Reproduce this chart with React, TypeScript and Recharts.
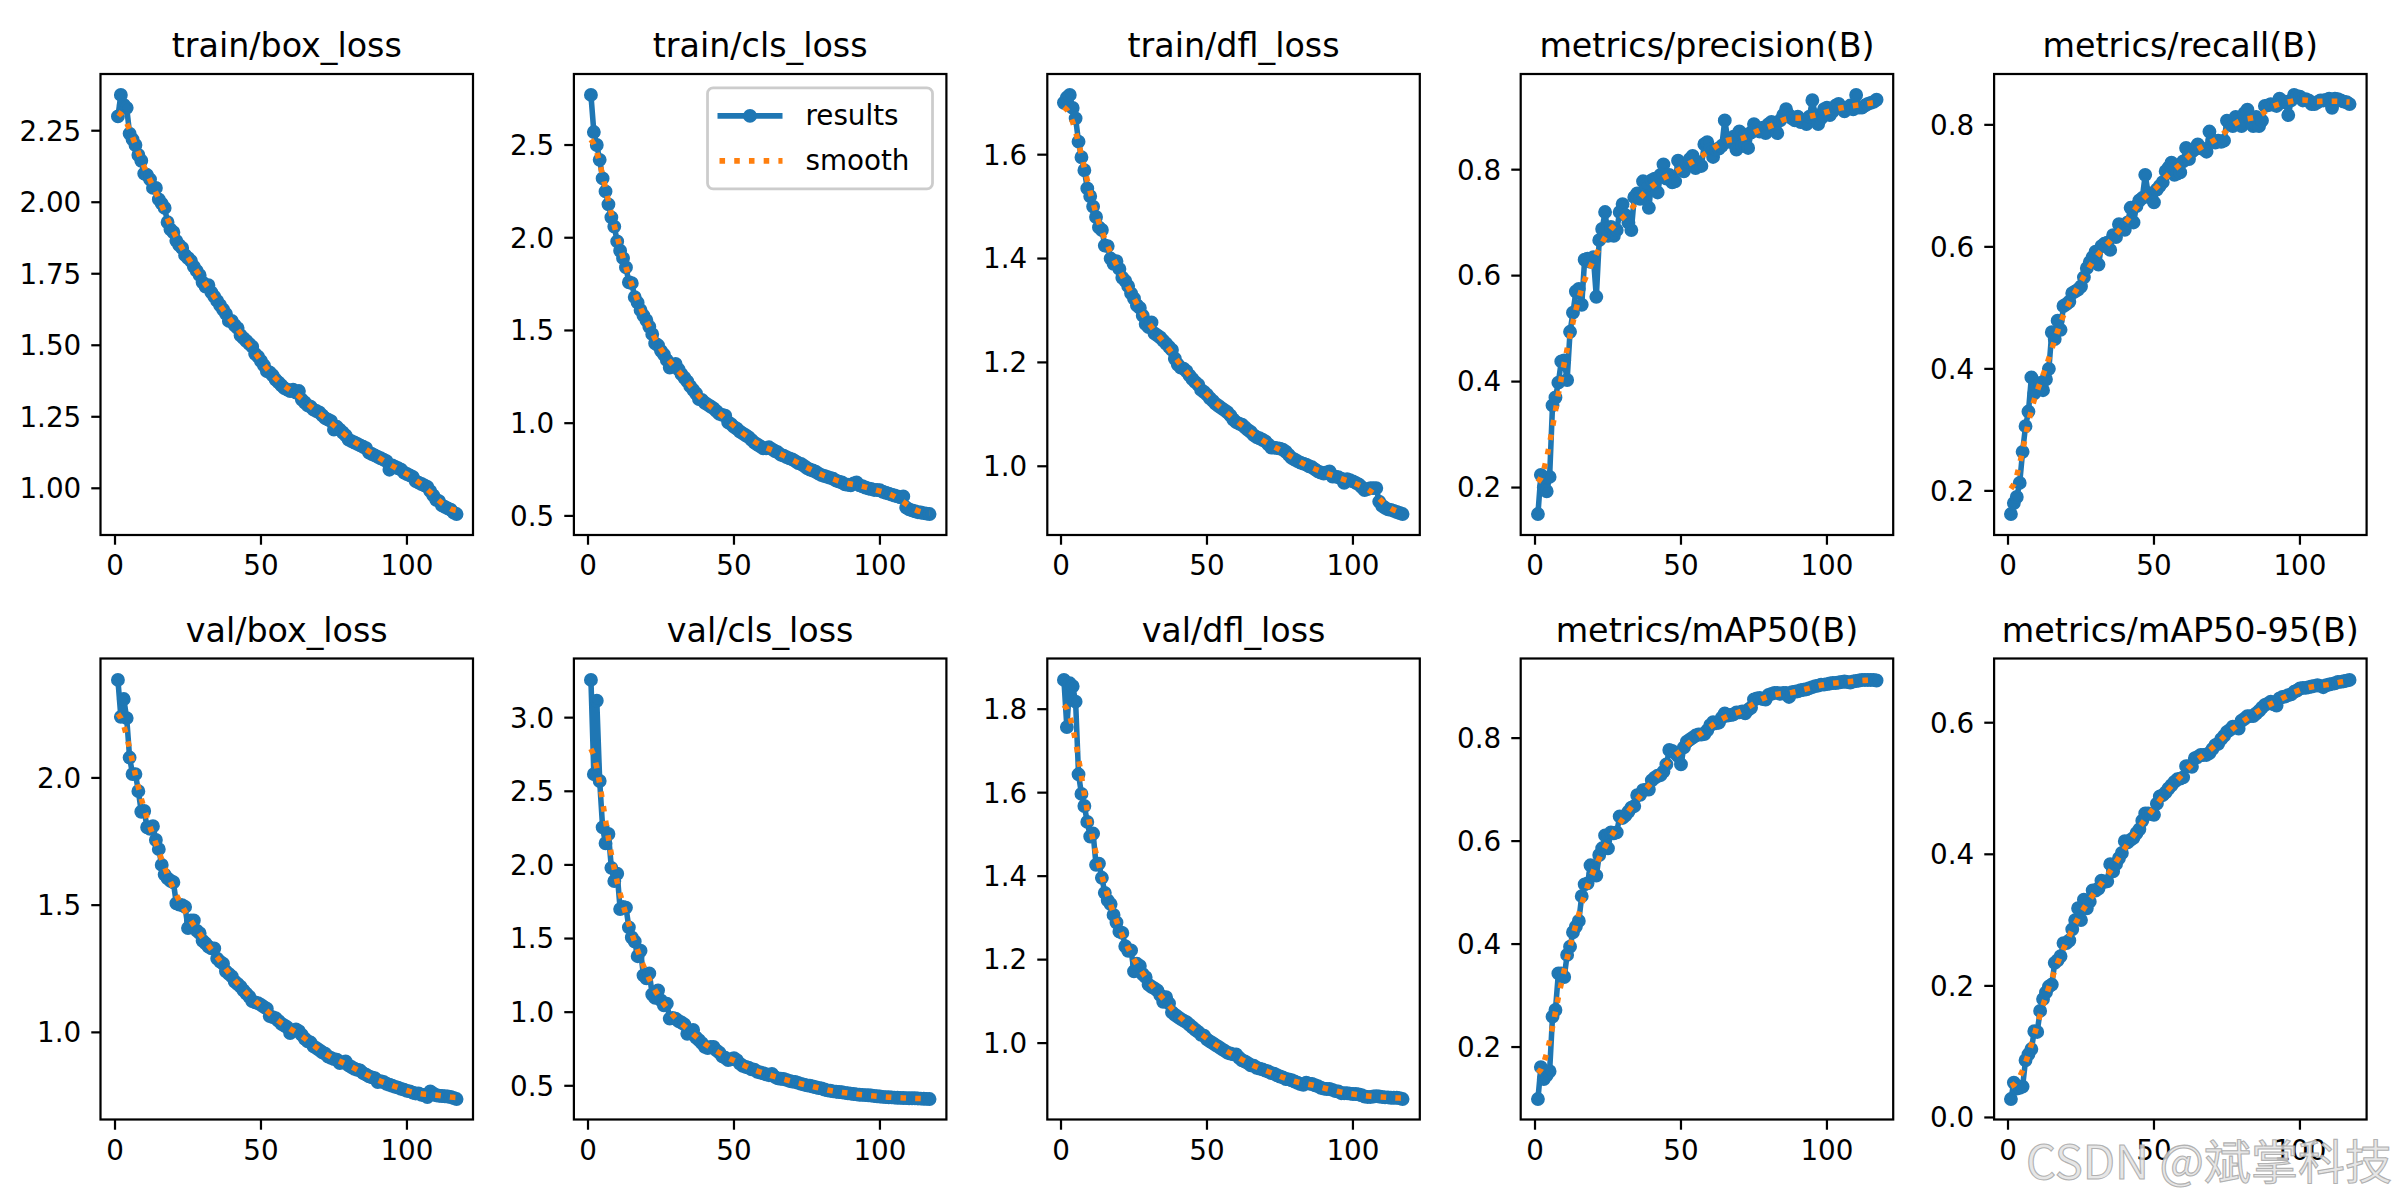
import React from 'react';
import { LineChart, Line, XAxis, YAxis } from 'recharts';

// per-epoch values (epochs 1..117)
const trainBoxLoss = [
  2.30, 2.375, 2.34, 2.33, 2.24, 2.22, 2.20, 2.165, 2.145, 2.10,
  2.095, 2.08, 2.05, 2.05, 2.01, 1.995, 1.98, 1.93, 1.905, 1.895,
  1.865, 1.85, 1.84, 1.815, 1.805, 1.795, 1.775, 1.76, 1.745, 1.72,
  1.705, 1.71, 1.685, 1.67, 1.655, 1.64, 1.625, 1.61, 1.585, 1.585,
  1.57, 1.56, 1.535, 1.525, 1.515, 1.505, 1.495, 1.47, 1.46, 1.445,
  1.43, 1.41, 1.405, 1.395, 1.38, 1.37, 1.36, 1.35, 1.345, 1.34,
  1.345, 1.335, 1.34, 1.31, 1.30, 1.29, 1.285, 1.275, 1.27, 1.265,
  1.255, 1.245, 1.24, 1.235, 1.205, 1.215, 1.205, 1.195, 1.185, 1.17,
  1.165, 1.16, 1.155, 1.15, 1.145, 1.14, 1.125, 1.12, 1.115, 1.11,
  1.105, 1.10, 1.095, 1.065, 1.08, 1.075, 1.07, 1.065, 1.055, 1.05,
  1.045, 1.04, 1.025, 1.02, 1.015, 1.01, 1.005, 0.99, 0.975, 0.96,
  0.955, 0.94, 0.935, 0.93, 0.925, 0.915, 0.91,
];

const trainClsLoss = [
  2.77, 2.57, 2.50, 2.42, 2.32, 2.25, 2.18, 2.11, 2.06, 1.98,
  1.93, 1.89, 1.84, 1.76, 1.755, 1.68, 1.65, 1.61, 1.58, 1.555,
  1.52, 1.48, 1.43, 1.42, 1.39, 1.37, 1.34, 1.30, 1.31, 1.32,
  1.29, 1.265, 1.245, 1.225, 1.20, 1.18, 1.16, 1.13, 1.125, 1.11,
  1.10, 1.09, 1.08, 1.065, 1.05, 1.045, 1.04, 1.005, 0.995, 0.98,
  0.97, 0.955, 0.945, 0.935, 0.925, 0.91, 0.895, 0.885, 0.875, 0.865,
  0.865, 0.87, 0.86, 0.85, 0.843, 0.83, 0.825, 0.817, 0.81, 0.805,
  0.795, 0.785, 0.78, 0.77, 0.758, 0.75, 0.745, 0.738, 0.728, 0.72,
  0.715, 0.71, 0.705, 0.70, 0.69, 0.685, 0.68, 0.67, 0.668, 0.665,
  0.675, 0.68, 0.665, 0.66, 0.653, 0.648, 0.645, 0.64, 0.64, 0.638,
  0.63, 0.625, 0.62, 0.615, 0.61, 0.605, 0.60, 0.605, 0.545, 0.535,
  0.53, 0.525, 0.52, 0.518, 0.515, 0.512, 0.51,
];

const trainDflLoss = [
  1.70, 1.71, 1.715, 1.69, 1.67, 1.625, 1.595, 1.57, 1.535, 1.52,
  1.50, 1.48, 1.46, 1.455, 1.425, 1.424, 1.40, 1.39, 1.395, 1.38,
  1.363, 1.357, 1.347, 1.333, 1.323, 1.31, 1.305, 1.29, 1.274, 1.268,
  1.277, 1.256, 1.252, 1.248, 1.242, 1.236, 1.23, 1.224, 1.207, 1.196,
  1.19, 1.188, 1.183, 1.175, 1.168, 1.162, 1.157, 1.147, 1.143, 1.138,
  1.131, 1.126, 1.12, 1.116, 1.112, 1.108, 1.104, 1.098, 1.09, 1.085,
  1.082, 1.08, 1.075, 1.07, 1.066, 1.06, 1.056, 1.054, 1.051, 1.048,
  1.042, 1.036, 1.036, 1.035, 1.034, 1.032, 1.028, 1.022, 1.016, 1.013,
  1.01, 1.007, 1.005, 1.003, 1.0, 0.998, 0.994, 0.99, 0.988, 0.986,
  0.988, 0.99, 0.98, 0.98, 0.979, 0.976, 0.968, 0.975, 0.973, 0.971,
  0.968, 0.965, 0.96, 0.954, 0.956, 0.958, 0.958, 0.958, 0.932, 0.924,
  0.92, 0.917, 0.916, 0.914, 0.912, 0.91, 0.908,
];

const precision = [
  0.150, 0.224, 0.200, 0.193, 0.220, 0.355, 0.370, 0.398, 0.438, 0.440,
  0.403, 0.494, 0.530, 0.570, 0.575, 0.545, 0.630, 0.632, 0.626, 0.635,
  0.560, 0.667, 0.688, 0.720, 0.675, 0.692, 0.675, 0.686, 0.720, 0.735,
  0.714, 0.700, 0.686, 0.748, 0.755, 0.745, 0.778, 0.770, 0.728, 0.780,
  0.783, 0.757, 0.790, 0.810, 0.783, 0.790, 0.776, 0.778, 0.817, 0.810,
  0.797, 0.810, 0.820, 0.826, 0.803, 0.814, 0.807, 0.848, 0.852, 0.838,
  0.824, 0.838, 0.840, 0.845, 0.893, 0.859, 0.852, 0.862, 0.838, 0.872,
  0.845, 0.866, 0.841, 0.870, 0.886, 0.879, 0.872, 0.879, 0.869, 0.886,
  0.890, 0.879, 0.869, 0.893, 0.903, 0.914, 0.903, 0.897, 0.893, 0.900,
  0.890, 0.893, 0.886, 0.900, 0.931, 0.903, 0.886, 0.897, 0.914, 0.917,
  0.903, 0.910, 0.921, 0.924, 0.917, 0.910, 0.917, 0.921, 0.914, 0.941,
  0.917, 0.917, 0.921, 0.924, 0.926, 0.928, 0.932,
];

const recall = [
  0.162, 0.180, 0.190, 0.213, 0.264, 0.306, 0.330, 0.386, 0.360, 0.372,
  0.377, 0.365, 0.383, 0.400, 0.460, 0.449, 0.479, 0.464, 0.503, 0.506,
  0.510, 0.524, 0.527, 0.530, 0.535, 0.550, 0.565, 0.575, 0.583, 0.592,
  0.571, 0.601, 0.605, 0.607, 0.595, 0.619, 0.616, 0.637, 0.632, 0.628,
  0.640, 0.664, 0.640, 0.667, 0.676, 0.680, 0.718, 0.688, 0.680, 0.673,
  0.694, 0.700, 0.706, 0.724, 0.730, 0.738, 0.718, 0.720, 0.722, 0.740,
  0.762, 0.744, 0.756, 0.760, 0.768, 0.762, 0.760, 0.756, 0.789, 0.775,
  0.771, 0.774, 0.772, 0.774, 0.807, 0.800, 0.798, 0.813, 0.805, 0.798,
  0.819, 0.825, 0.812, 0.798, 0.813, 0.798, 0.807, 0.831, 0.832, 0.834,
  0.833, 0.831, 0.843, 0.837, 0.838, 0.816, 0.840, 0.849, 0.847, 0.846,
  0.840, 0.842, 0.840, 0.834, 0.834, 0.837, 0.840, 0.840, 0.841, 0.843,
  0.828, 0.843, 0.842, 0.840, 0.838, 0.837, 0.834,
];

const valBoxLoss = [
  2.385, 2.240, 2.310, 2.235, 2.080, 2.015, 2.015, 1.948, 1.867, 1.870,
  1.806, 1.800, 1.810, 1.756, 1.720, 1.658, 1.620, 1.605, 1.596, 1.590,
  1.507, 1.502, 1.500, 1.493, 1.410, 1.440, 1.440, 1.400, 1.390, 1.360,
  1.350, 1.337, 1.330, 1.330, 1.290, 1.278, 1.270, 1.240, 1.230, 1.220,
  1.200, 1.190, 1.180, 1.165, 1.152, 1.140, 1.123, 1.118, 1.115, 1.108,
  1.100, 1.093, 1.064, 1.060, 1.056, 1.045, 1.034, 1.027, 1.020, 0.997,
  1.005, 1.012, 1.005, 0.990, 0.975, 0.965, 0.960, 0.945, 0.938, 0.930,
  0.922, 0.916, 0.905, 0.900, 0.895, 0.893, 0.879, 0.882, 0.886, 0.870,
  0.864, 0.857, 0.853, 0.850, 0.840, 0.834, 0.827, 0.823, 0.820, 0.805,
  0.808, 0.805, 0.798, 0.794, 0.790, 0.786, 0.783, 0.778, 0.775, 0.770,
  0.768, 0.763, 0.760, 0.760, 0.755, 0.753, 0.746, 0.768, 0.760, 0.753,
  0.751, 0.750, 0.749, 0.748, 0.746, 0.742, 0.738,
];

const valClsLoss = [
  3.256, 2.616, 3.115, 2.570, 2.255, 2.147, 2.210, 1.980, 1.890, 1.940,
  1.700, 1.715, 1.710, 1.576, 1.507, 1.480, 1.380, 1.417, 1.250, 1.230,
  1.263, 1.120, 1.097, 1.148, 1.080, 1.046, 1.058, 0.956, 0.960, 0.956,
  0.940, 0.930, 0.917, 0.853, 0.875, 0.879, 0.828, 0.810, 0.790, 0.765,
  0.756, 0.764, 0.764, 0.740, 0.725, 0.700, 0.690, 0.674, 0.680, 0.687,
  0.674, 0.650, 0.636, 0.628, 0.623, 0.612, 0.610, 0.595, 0.590, 0.585,
  0.578, 0.572, 0.580, 0.560, 0.550, 0.548, 0.546, 0.540, 0.533, 0.528,
  0.526, 0.520, 0.513, 0.508, 0.503, 0.500, 0.495, 0.490, 0.485, 0.482,
  0.475, 0.469, 0.466, 0.462, 0.460, 0.458, 0.456, 0.452, 0.449, 0.447,
  0.444, 0.442, 0.439, 0.438, 0.437, 0.436, 0.434, 0.431, 0.429, 0.427,
  0.425, 0.423, 0.422, 0.421, 0.420, 0.419, 0.418, 0.417, 0.416, 0.415,
  0.415, 0.415, 0.414, 0.413, 0.412, 0.411, 0.410,
];

const valDflLoss = [
  1.870, 1.757, 1.862, 1.855, 1.818, 1.644, 1.597, 1.568, 1.530, 1.495,
  1.502, 1.427, 1.430, 1.396, 1.360, 1.342, 1.333, 1.307, 1.289, 1.267,
  1.264, 1.232, 1.221, 1.222, 1.172, 1.190, 1.185, 1.165, 1.158, 1.140,
  1.135, 1.131, 1.126, 1.115, 1.099, 1.110, 1.095, 1.074, 1.068, 1.063,
  1.058, 1.054, 1.050, 1.044, 1.038, 1.032, 1.027, 1.020, 1.018, 1.009,
  1.004, 1.000, 0.995, 0.991, 0.986, 0.982, 0.977, 0.975, 0.973, 0.973,
  0.965, 0.959, 0.956, 0.952, 0.947, 0.946, 0.941, 0.939, 0.937, 0.934,
  0.932, 0.928, 0.927, 0.923, 0.920, 0.918, 0.914, 0.913, 0.911, 0.908,
  0.905, 0.902, 0.900, 0.905, 0.903, 0.902, 0.899, 0.897, 0.893, 0.891,
  0.890, 0.890, 0.888, 0.885, 0.884, 0.880, 0.880, 0.880, 0.879, 0.878,
  0.878, 0.877, 0.875, 0.872, 0.871, 0.871, 0.872, 0.873, 0.872, 0.871,
  0.870, 0.870, 0.869, 0.869, 0.869, 0.868, 0.866,
];

const mAP50 = [
  0.099, 0.161, 0.138, 0.145, 0.153, 0.259, 0.272, 0.343, 0.343, 0.336,
  0.379, 0.395, 0.423, 0.434, 0.445, 0.493, 0.516, 0.518, 0.553, 0.537,
  0.533, 0.573, 0.586, 0.611, 0.586, 0.617, 0.615, 0.617, 0.648, 0.645,
  0.650, 0.657, 0.665, 0.668, 0.689, 0.690, 0.699, 0.700, 0.700, 0.718,
  0.723, 0.727, 0.728, 0.735, 0.749, 0.777, 0.775, 0.771, 0.765, 0.749,
  0.782, 0.793, 0.797, 0.801, 0.805, 0.807, 0.807, 0.808, 0.815, 0.825,
  0.831, 0.829, 0.830, 0.840, 0.848, 0.844, 0.845, 0.846, 0.850, 0.850,
  0.852, 0.848, 0.855, 0.859, 0.875, 0.877, 0.878, 0.876, 0.875, 0.884,
  0.886, 0.888, 0.888, 0.886, 0.888, 0.888, 0.880, 0.889, 0.890, 0.891,
  0.893, 0.894, 0.895, 0.897, 0.899, 0.901, 0.902, 0.904, 0.904, 0.905,
  0.906, 0.907, 0.907, 0.908, 0.909, 0.910, 0.909, 0.908, 0.910, 0.911,
  0.912, 0.913, 0.913, 0.913, 0.913, 0.913, 0.912,
];

const mAP5095 = [
  0.028, 0.053, 0.044, 0.045, 0.047, 0.087, 0.096, 0.104, 0.131, 0.130,
  0.162, 0.180, 0.190, 0.199, 0.202, 0.235, 0.239, 0.245, 0.265, 0.265,
  0.269, 0.286, 0.300, 0.318, 0.300, 0.331, 0.318, 0.328, 0.345, 0.345,
  0.348, 0.360, 0.358, 0.359, 0.385, 0.374, 0.385, 0.394, 0.402, 0.420,
  0.418, 0.422, 0.425, 0.432, 0.438, 0.451, 0.462, 0.462, 0.461, 0.460,
  0.477, 0.488, 0.490, 0.494, 0.500, 0.505, 0.510, 0.514, 0.515, 0.517,
  0.534, 0.534, 0.533, 0.546, 0.548, 0.551, 0.551, 0.551, 0.554, 0.560,
  0.566, 0.568, 0.575, 0.580, 0.586, 0.589, 0.594, 0.594, 0.591, 0.603,
  0.606, 0.610, 0.610, 0.610, 0.614, 0.618, 0.623, 0.627, 0.629, 0.632,
  0.628, 0.626, 0.637, 0.639, 0.640, 0.642, 0.643, 0.647, 0.649, 0.652,
  0.653, 0.653, 0.654, 0.655, 0.656, 0.657, 0.656, 0.654, 0.657, 0.658,
  0.659, 0.660, 0.662, 0.662, 0.663, 0.664, 0.665,
];

const epochTicks = [0, 50, 100];
const trainBoxTicks = [1.0, 1.25, 1.5, 1.75, 2.0, 2.25];
const trainClsTicks = [0.5, 1.0, 1.5, 2.0, 2.5];
const trainDflTicks = [1.0, 1.2, 1.4, 1.6];
const precisionTicks = [0.2, 0.4, 0.6, 0.8];
const recallTicks = [0.2, 0.4, 0.6, 0.8];
const valBoxTicks = [1.0, 1.5, 2.0];
const valClsTicks = [0.5, 1.0, 1.5, 2.0, 2.5, 3.0];
const valDflTicks = [1.0, 1.2, 1.4, 1.6, 1.8];
const mAP50Ticks = [0.2, 0.4, 0.6, 0.8];
const mAP5095Ticks = [0.0, 0.2, 0.4, 0.6];

const BLUE = '#1f77b4';
const ORANGE = '#ff7f0e';
const FONT = '"DejaVu Sans", Verdana, sans-serif';
const PT = 200 / 72; // one matplotlib point at 200 dpi

// axes frames in page pixels
const FRAME_W = 372.5;
const FRAME_H = 461;
const COL_LEFT = [100.5, 573.9, 1047.3, 1520.7, 1994.1];
const ROW_TOP = [74, 658.5];
const PAD_LEFT = 100;
const PAD_TOP = 20;
const PAD_RIGHT = 20;
const PAD_BOTTOM = 70;

const panels = [
  { title: 'train/box_loss', values: trainBoxLoss, ticks: trainBoxTicks, digits: 2 },
  { title: 'train/cls_loss', values: trainClsLoss, ticks: trainClsTicks, digits: 1 },
  { title: 'train/dfl_loss', values: trainDflLoss, ticks: trainDflTicks, digits: 1 },
  { title: 'metrics/precision(B)', values: precision, ticks: precisionTicks, digits: 1 },
  { title: 'metrics/recall(B)', values: recall, ticks: recallTicks, digits: 1 },
  { title: 'val/box_loss', values: valBoxLoss, ticks: valBoxTicks, digits: 1 },
  { title: 'val/cls_loss', values: valClsLoss, ticks: valClsTicks, digits: 1 },
  { title: 'val/dfl_loss', values: valDflLoss, ticks: valDflTicks, digits: 1 },
  { title: 'metrics/mAP50(B)', values: mAP50, ticks: mAP50Ticks, digits: 1 },
  { title: 'metrics/mAP50-95(B)', values: mAP5095, ticks: mAP5095Ticks, digits: 1 },
];

// the "smooth" curve of the training plot: gaussian filter, sigma 3, reflect edges
function gaussianSmooth(values: number[], sigma = 3): number[] {
  const radius = Math.floor(4 * sigma + 0.5);
  const weights: number[] = [];
  for (let k = -radius; k <= radius; k++) weights.push(Math.exp(-(k * k) / (2 * sigma * sigma)));
  const total = weights.reduce((a, b) => a + b, 0);
  const n = values.length;
  const at = (i: number) => {
    while (i < 0 || i >= n) {
      if (i < 0) i = -i - 1;
      if (i >= n) i = 2 * n - i - 1;
    }
    return values[i];
  };
  return values.map((_, i) => weights.reduce((acc, w, j) => acc + w * at(i + j - radius), 0) / total);
}

const tickStyle = { fontSize: 10 * PT, fill: '#000', fontFamily: FONT };
const tickLineStyle = { stroke: '#000', strokeWidth: 0.8 * PT };
const DOTTED = `${2 * PT} ${3.3 * PT}`;

function Panel({ panel, left, top }: { panel: typeof panels[number]; left: number; top: number }) {
  const smooth = gaussianSmooth(panel.values);
  const data = panel.values.map((v, i) => ({ epoch: i + 1, results: v, smooth: smooth[i] }));
  const all = [...panel.values, ...smooth];
  const lo = Math.min(...all);
  const hi = Math.max(...all);
  const ym = (hi - lo) * 0.05;
  const n = panel.values.length;
  const xm = (n - 1) * 0.05;
  const xDomain: [number, number] = [1 - xm, n + xm];
  const yDomain: [number, number] = [lo - ym, hi + ym];
  const size = {
    width: PAD_LEFT + FRAME_W + PAD_RIGHT,
    height: PAD_TOP + FRAME_H + PAD_BOTTOM,
    margin: { top: PAD_TOP, right: PAD_RIGHT, bottom: 0, left: 0 },
  };

  return (
    <>
      <div style={{ position: 'absolute', left: left - PAD_LEFT, top: top - PAD_TOP }}>
        <LineChart {...size} data={data}>
          <XAxis
            type="number"
            dataKey="epoch"
            domain={xDomain}
            allowDataOverflow
            ticks={epochTicks}
            interval={0}
            height={PAD_BOTTOM}
            axisLine={false}
            tickLine={tickLineStyle}
            tickSize={3.5 * PT}
            tickMargin={11}
            tick={tickStyle}
          />
          <YAxis
            type="number"
            domain={yDomain}
            allowDataOverflow
            ticks={panel.ticks}
            interval={0}
            width={PAD_LEFT}
            axisLine={false}
            tickLine={tickLineStyle}
            tickSize={3.5 * PT}
            tickMargin={10}
            tick={tickStyle}
            tickFormatter={(v: number) => v.toFixed(panel.digits)}
          />
          <Line
            type="linear"
            dataKey="results"
            stroke={BLUE}
            strokeWidth={2 * PT}
            strokeLinejoin="round"
            dot={{ r: 2 * PT, fill: BLUE, stroke: BLUE, strokeWidth: PT }}
            activeDot={false}
            isAnimationActive={false}
          />
        </LineChart>
      </div>
      {/* smooth curve in its own layer so it sits above the result markers */}
      <div style={{ position: 'absolute', left: left - PAD_LEFT, top: top - PAD_TOP }}>
        <LineChart {...size} data={data}>
          <XAxis type="number" dataKey="epoch" domain={xDomain} allowDataOverflow height={PAD_BOTTOM} tick={false} tickLine={false} axisLine={false} />
          <YAxis type="number" domain={yDomain} allowDataOverflow width={PAD_LEFT} tick={false} tickLine={false} axisLine={false} />
          <Line
            type="linear"
            dataKey="smooth"
            stroke={ORANGE}
            strokeWidth={2 * PT}
            strokeDasharray={DOTTED}
            strokeLinecap="butt"
            dot={false}
            activeDot={false}
            isAnimationActive={false}
          />
        </LineChart>
      </div>
    </>
  );
}

function LegendBox() {
  const right = COL_LEFT[1] + FRAME_W - 5 * PT;
  const top = ROW_TOP[0] + 5 * PT;
  const w = 225;
  const h = 101;
  const x = right - w;
  const row1 = top + 28;
  const row2 = top + 73;
  return (
    <g>
      <rect x={x} y={top} width={w} height={h} rx={5.6} fill="#fff" fillOpacity={0.8} stroke="#cccccc" strokeWidth={PT} />
      <line x1={x + 10} x2={x + 75} y1={row1} y2={row1} stroke={BLUE} strokeWidth={2 * PT} />
      <circle cx={x + 42.5} cy={row1} r={2 * PT} fill={BLUE} stroke={BLUE} strokeWidth={PT} />
      <text x={x + 98} y={row1} dominantBaseline="central" fontSize={10 * PT} fontFamily={FONT}>results</text>
      <line x1={x + 12} x2={x + 75} y1={row2} y2={row2} stroke={ORANGE} strokeWidth={2 * PT} strokeDasharray={DOTTED} />
      <text x={x + 98} y={row2} dominantBaseline="central" fontSize={10 * PT} fontFamily={FONT}>smooth</text>
    </g>
  );
}

export default function App() {
  return (
    <div style={{ position: 'absolute', left: 0, top: 0, width: 2400, height: 1200, background: '#fff', overflow: 'hidden' }}>
      {panels.map((p, i) => (
        <Panel key={p.title} panel={p} left={COL_LEFT[i % 5]} top={ROW_TOP[Math.floor(i / 5)]} />
      ))}
      <svg width={2400} height={1200} style={{ position: 'absolute', left: 0, top: 0, pointerEvents: 'none' }}>
        {panels.map((p, i) => {
          const x = COL_LEFT[i % 5];
          const y = ROW_TOP[Math.floor(i / 5)];
          return (
            <g key={p.title}>
              <rect x={x} y={y} width={FRAME_W} height={FRAME_H} fill="none" stroke="#000" strokeWidth={0.8 * PT} />
              <text x={x + FRAME_W / 2} y={y - 6 * PT} textAnchor="middle" fontSize={12 * PT} fontFamily={FONT} fill="#000">
                {p.title}
              </text>
            </g>
          );
        })}
        <LegendBox />
        <text
          x={2392}
          y={1179}
          textAnchor="end"
          fontSize={47}
          fontFamily='"Noto Sans CJK SC", "Noto Sans", sans-serif'
          fill="#e2e2e2"
          fillOpacity={0.85}
          stroke="#a9a9a9"
          strokeOpacity={0.9}
          strokeWidth={1.1}
        >
          CSDN @斌掌科技
        </text>
      </svg>
    </div>
  );
}
